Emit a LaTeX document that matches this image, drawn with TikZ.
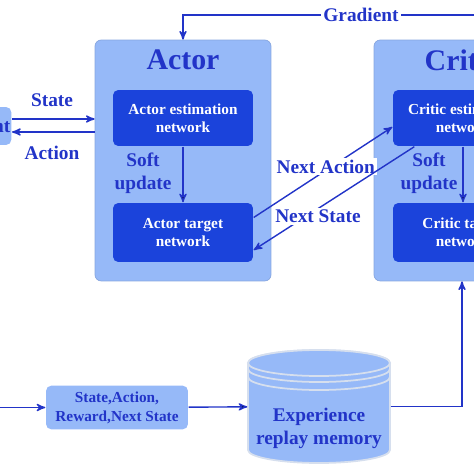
\documentclass[tikz,border=0pt]{standalone}
\usepackage{fontspec}
\setmainfont{Liberation Serif}
\usepackage{xcolor}
\usepackage{tikz}
\usetikzlibrary{arrows,calc}

\definecolor{boxblue}{HTML}{96B9F8}
\definecolor{netblue}{HTML}{1B43DB}
\definecolor{inkblue}{HTML}{2234C8}
\definecolor{cylline}{HTML}{D6DFEE}

\begin{document}
\begin{tikzpicture}[x=0.02cm,y=0.02cm,>=stealth',thick,
                    every node/.style={text=inkblue,font=\bfseries},
                    outer box/.style={rectangle,rounded corners=3.5pt,fill=boxblue,draw=boxblue!90!black,
                                      thin,minimum width=3.52cm,minimum height=4.82cm},
                    net box/.style={rectangle,rounded corners=3pt,fill=netblue,text=white,align=center,
                                    minimum width=2.8cm,font=\bfseries\fontsize{8.7}{10.2}\selectfont},
                    title/.style={font=\bfseries\fontsize{17}{20}\selectfont},
                    lbl/.style={font=\bfseries\fontsize{11}{13}\selectfont,align=center,inner sep=1pt},
                    line/.style={draw=inkblue}]

  \useasboundingbox (0,0) rectangle (474,474);
  \clip (0,0) rectangle (474,474);

  % actor and critic
  \node[outer box] (actor) at (183,313.5) {};
  \node[title] (actortitle) at (183,414) {Actor};
  \node[net box,minimum height=1.12cm] (aest) at (183,356) {Actor estimation\\network};
  \node[net box,minimum height=1.18cm] (atgt) at (183,241.5) {Actor target\\network};
  \node[lbl] (asoft) at (143,301) {Soft\\update};

  \node[outer box] (critic) at (462,313.5) {};
  \node[title] (critictitle) at (462,414) {Critic};
  \node[net box,minimum height=1.12cm] (cest) at (463,356) {Critic estimation\\network};
  \node[net box,minimum height=1.18cm] (ctgt) at (463,241.5) {Critic target\\network};
  \node[lbl] (csoft) at (429,301) {Soft\\update};

  % environment
  \node[rectangle,rounded corners=3pt,fill=boxblue,anchor=east,inner xsep=0.5pt,
        minimum height=0.76cm,font=\bfseries\fontsize{11}{13}\selectfont] (env) at (12,348) {Environment};
  \node[lbl] (state) at (52,374) {State};
  \node[lbl] (action) at (52,321) {Action};

  % replay
  \node[rectangle,rounded corners=3pt,fill=boxblue,align=center,minimum width=2.84cm,minimum height=0.78cm,
        font=\bfseries\fontsize{8.7}{10.8}\selectfont] (samp) at (117,66.5) {State,Action,\\Reward,Next State};
  \node[minimum width=2.84cm,minimum height=2.26cm,inner sep=0pt] (mem) at (319,67.5) {};
  \path[fill=boxblue,draw=cylline,line width=1pt]
    (248,111) -- (248,24) arc[start angle=180,end angle=360,x radius=71,y radius=13]
    -- (390,111) arc[start angle=0,end angle=180,x radius=71,y radius=13] -- cycle;
  \path[fill=boxblue,draw=cylline,line width=1pt] (319,111) ellipse[x radius=71,y radius=13];
  \draw[cylline,line width=1pt] (248,105) arc[start angle=180,end angle=360,x radius=71,y radius=13];
  \draw[cylline,line width=1pt] (248,97) arc[start angle=180,end angle=360,x radius=71,y radius=13];
  \node[lbl,font=\bfseries\fontsize{11}{13}\selectfont] (memtext) at (319,46) {Experience\\replay memory};

  \coordinate (gsrc) at (600,459);
  \node[lbl] (grad) at (361,459) {Gradient};

  % connectors
  \path[->,line]
    (aest) edge (atgt)
    (cest) edge (ctgt)
    (samp) edge (mem);

  \draw[line] (gsrc) -- (grad.east);
  \draw[->,line] (grad.west) -| (actor.north);

  \draw[->,line] ($(env.east)+(0,7)$) coordinate (s0) -- (s0 -| actor.west);
  \draw[<-,line] ($(env.east)+(0,-6)$) coordinate (a0) -- (a0 -| actor.west);

  \draw[->,line] ($(atgt.east)+(0,15)$) -- node[lbl,fill=white,pos=0.52,yshift=0.08cm] (nact) {Next Action}
    ($(cest.west)+(0,-9)$);
  \draw[->,line] ($(cest.south west)+(22,0)$) -- node[lbl,fill=white,pos=0.6,yshift=-0.16cm] (nst) {Next State}
    ($(atgt.east)+(0,-17.5)$);

  \draw[->,line] (env.south) |- (samp.west);
  \draw[->,line] (mem.east) -| (critic.south);

\end{tikzpicture}
\end{document}
